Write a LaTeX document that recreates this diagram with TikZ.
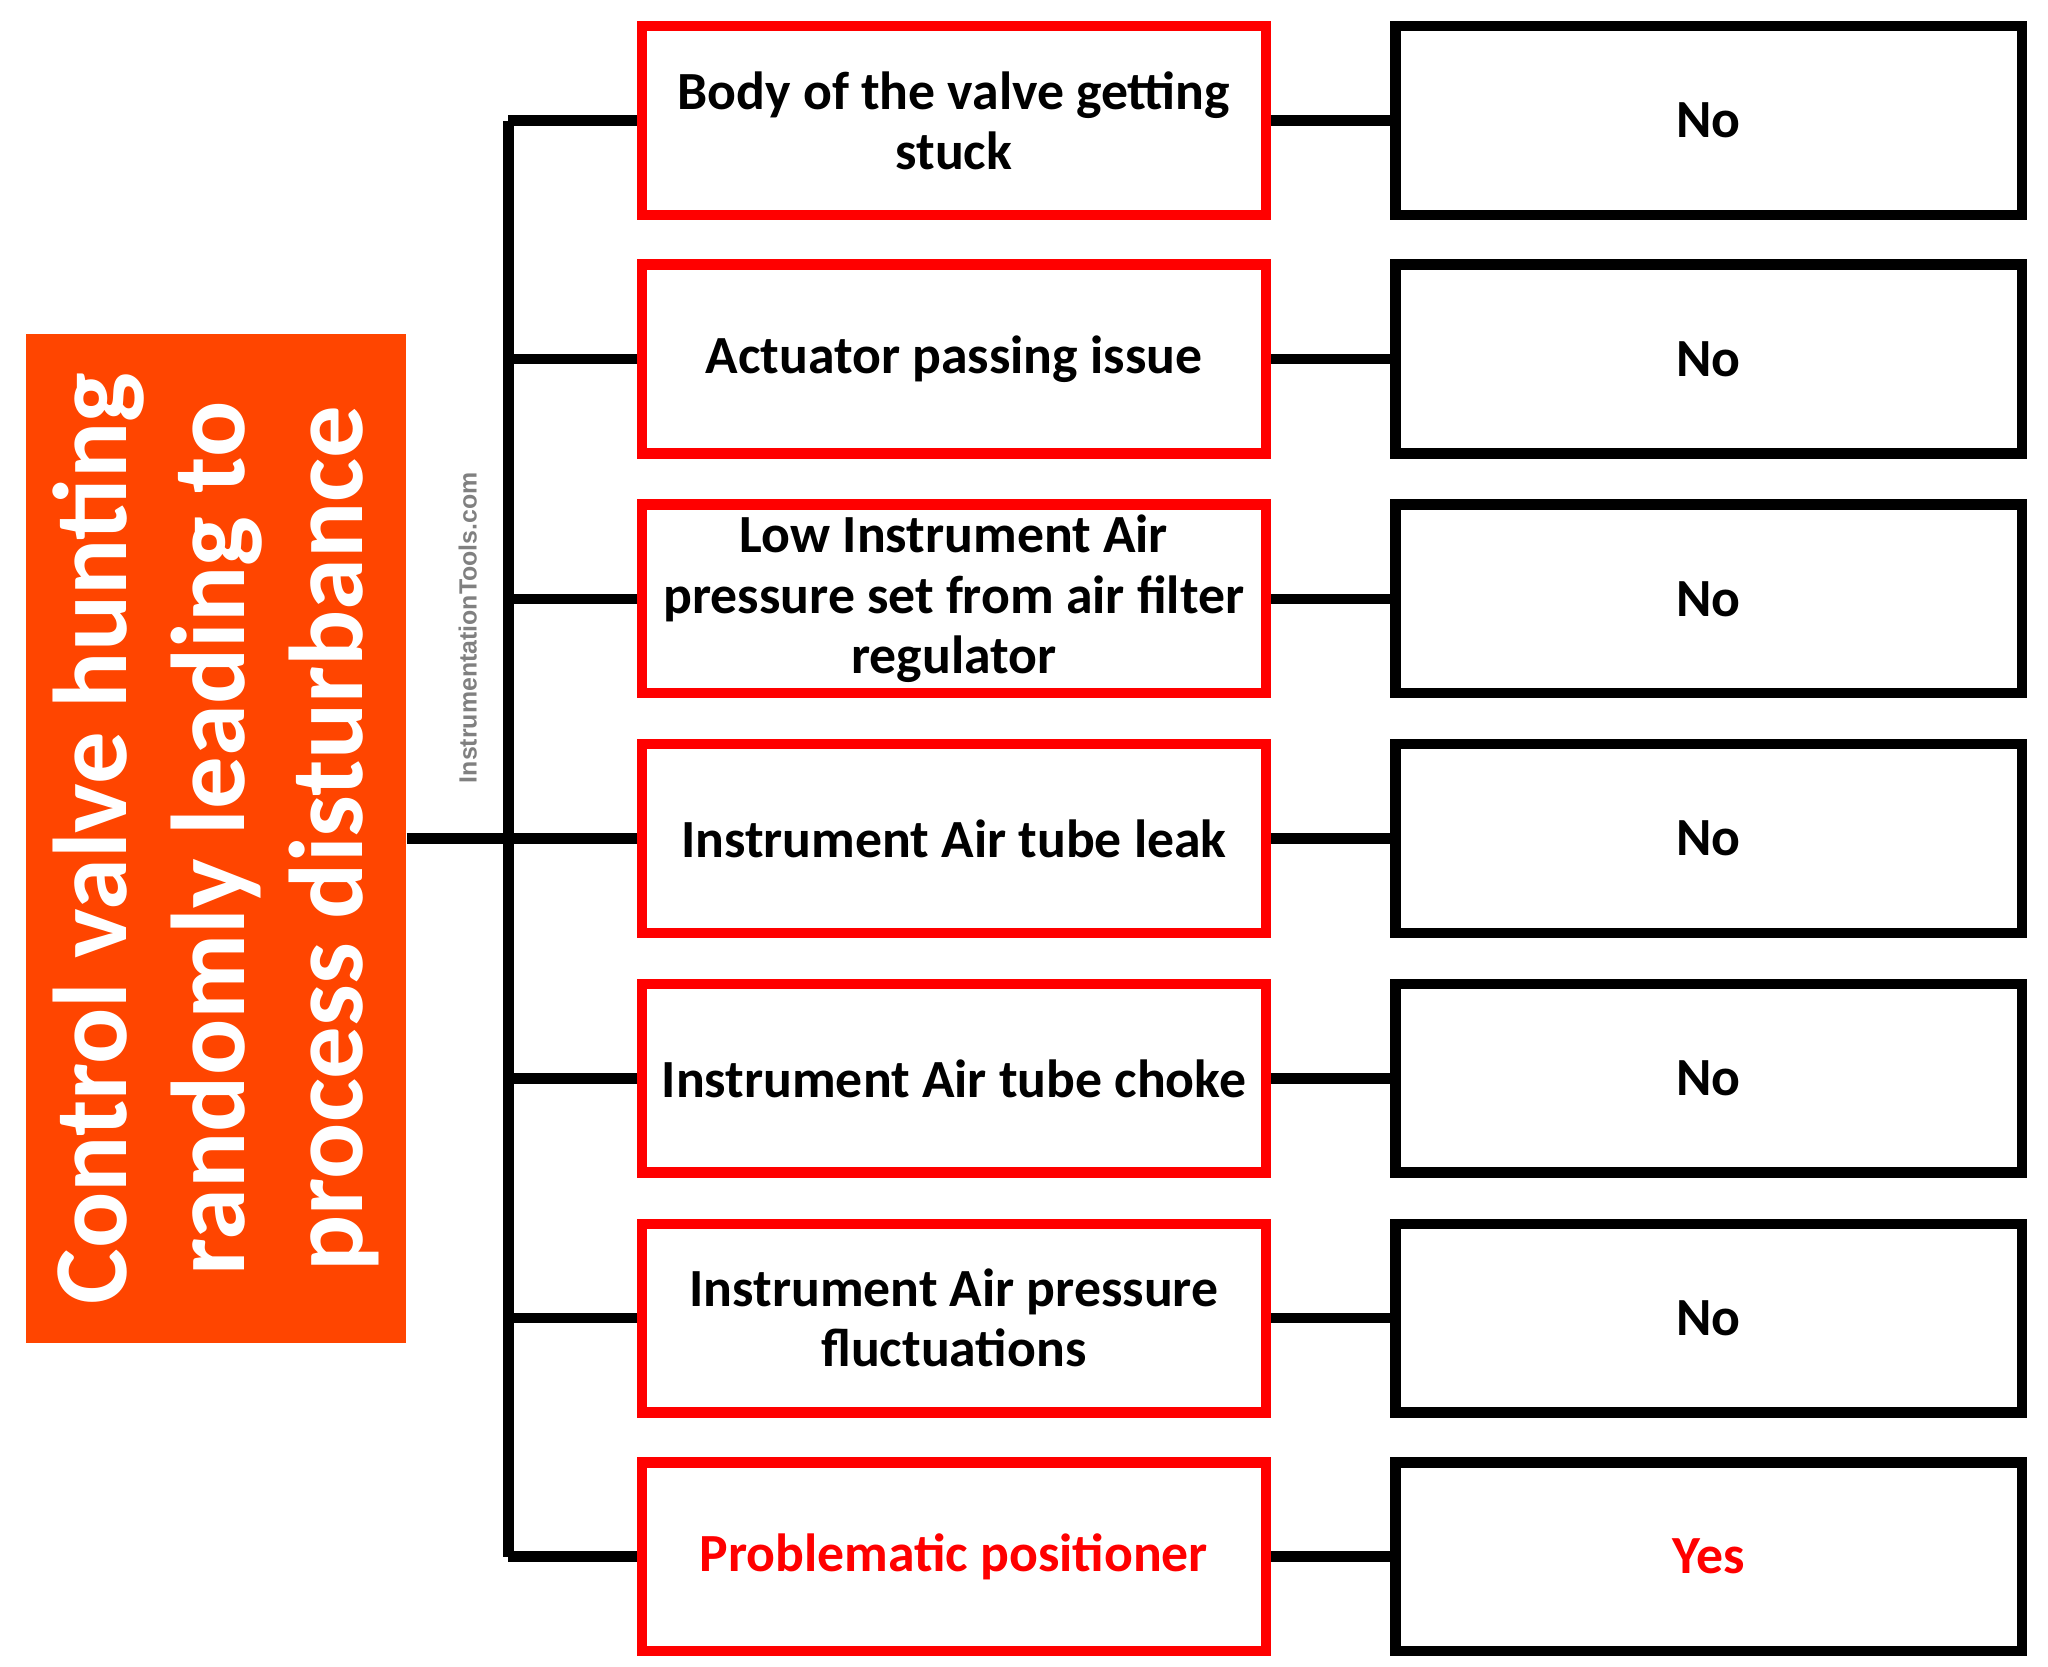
\documentclass[tikz,border=0pt]{standalone}
\usepackage{fontspec}
\setmainfont{Carlito}
\setsansfont{Liberation Sans}
\definecolor{ored}{HTML}{FF4500}
\definecolor{bred}{HTML}{FF0000}
\begin{document}
\begin{tikzpicture}[x=0.5pt,y=-0.5pt,
  line/.style={line width=4pt,black},
  cause/.style={draw=bred,line width=4pt,minimum width=238pt,minimum height=72pt,inner sep=0pt,align=center,font=\bfseries\fontsize{20.5}{23}\selectfont},
  ans/.style={draw=black,line width=4pt,minimum width=239pt,minimum height=72pt,inner sep=0pt,font=\bfseries\fontsize{20.5}{23}\selectfont}]
\useasboundingbox (0,0) rectangle (1563,1272);
\node[fill=ored,minimum width=145pt,minimum height=385pt,inner sep=0pt] (main) at (165,640) {};
\node[rotate=90,text=white,align=center,font=\bfseries\fontsize{40}{45}\selectfont] at (main.center) {Control valve hunting\\randomly leading to\\process disturbance};
\node[rotate=90,text=gray,font=\sffamily\bfseries\fontsize{9.5}{10}\selectfont] (wm) at (357,479) {InstrumentationTools.com};
\coordinate (top) at (388,92);
\coordinate (bot) at (388,1188);
\coordinate (mid) at (388,640);
\draw[line] (main.east) -- (mid);
\draw[line] (top) -- (bot);
\foreach \i/\y/\t/\a/\c in {
 1/92/{Body of the valve getting\\stuck}/No/black,
 2/274/{Actuator passing issue}/No/black,
 3/457/{Low Instrument Air\\pressure set from air filter\\regulator}/No/black,
 4/640/{Instrument Air tube leak}/No/black,
 5/823/{Instrument Air tube choke}/No/black,
 6/1006/{Instrument Air pressure\\fluctuations}/No/black,
 7/1188/{Problematic positioner}/Yes/bred}{
  \node[cause,text=\c] (c\i) at (728,\y) {\t};
  \node[ans,text=\c] (a\i) at (1304,\y) {\a};
  \coordinate (b\i) at (388,\y);
  \draw[line] (b\i) -- (c\i.west);
  \draw[line] (c\i.east) -- (a\i.west);
}
\end{tikzpicture}
\end{document}
